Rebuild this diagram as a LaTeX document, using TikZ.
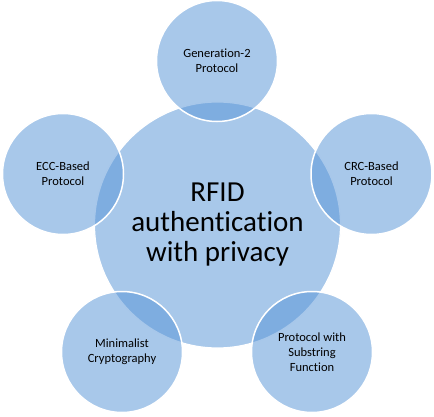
\documentclass[tikz,border=0pt]{standalone}
\usepackage{fontspec}
\setmainfont{Carlito}[Ligatures=NoCommon]
\definecolor{lightblue}{RGB}{168,200,234}
\definecolor{satblue}{RGB}{88,149,215}
\begin{document}
\begin{tikzpicture}[x=1pt,y=1pt,
  hub/.style={circle,fill=lightblue,draw=white,line width=1.2pt,minimum size=246pt,inner sep=0pt,align=center,font=\fontsize{29}{30}\selectfont},
  sat/.style={circle,fill=satblue,fill opacity=0.52,text opacity=1,draw=white,draw opacity=1,line width=1.5pt,minimum size=121pt,inner sep=0pt,align=center,font=\fontsize{12.5}{15}\selectfont}]
\useasboundingbox (0,0) rectangle (434,416);
\node[hub] (c) at (217.5,191) {RFID\\authentication\\with privacy};
\node[sat] (t) at (217,355) {Generation-2\\Protocol};
\node[sat] (l) at (63,242) {ECC-Based\\Protocol};
\node[sat] (r) at (371.5,242) {CRC-Based\\Protocol};
\node[sat] (bl) at (122,64) {Minimalist\\Cryptography};
\node[sat] (br) at (312,64) {Protocol with\\Substring\\Function};
\end{tikzpicture}
\end{document}
